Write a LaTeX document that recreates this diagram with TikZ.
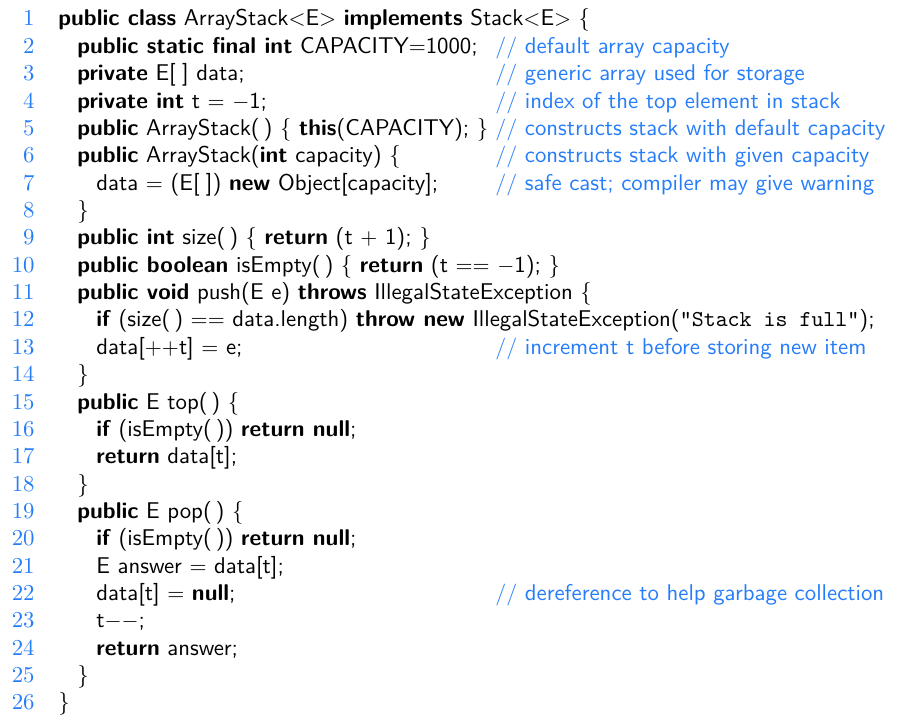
\documentclass[tikz,border=0pt]{standalone}
\usepackage{tikz}
\usepackage{amsmath}
\usepackage{color}
\usepackage{fontspec}
\setmainfont{lmroman10-regular.otf}
\setsansfont{lmsans10-regular.otf}[BoldFont=lmsans10-bold.otf]
\setmonofont{lmmono10-regular.otf}
\usetikzlibrary{positioning}
\definecolor{cmtblue}{RGB}{38,125,250}
\newcommand{\codesize}{\fontsize{11.4}{13}\selectfont}
\tikzstyle{num} = [anchor=base east, inner sep=0pt, text=cmtblue, font=\rmfamily\codesize]
\tikzstyle{code} = [anchor=base west, inner sep=0pt, text=black, font=\sffamily\codesize]
\tikzstyle{cmt} = [anchor=base west, inner sep=0pt, text=cmtblue, font=\sffamily\codesize]
\begin{document}
\begin{tikzpicture}[x=0.5pt, y=-0.5pt, node distance=13.68pt]
\useasboundingbox (0,0) rectangle (901,726);
\node (n1) [num] at (35,26) {1};
\node (n2) [below=of n1.base east, num] {2};
\node (n3) [below=of n2.base east, num] {3};
\node (n4) [below=of n3.base east, num] {4};
\node (n5) [below=of n4.base east, num] {5};
\node (n6) [below=of n5.base east, num] {6};
\node (n7) [below=of n6.base east, num] {7};
\node (n8) [below=of n7.base east, num] {8};
\node (n9) [below=of n8.base east, num] {9};
\node (n10) [below=of n9.base east, num] {10};
\node (n11) [below=of n10.base east, num] {11};
\node (n12) [below=of n11.base east, num] {12};
\node (n13) [below=of n12.base east, num] {13};
\node (n14) [below=of n13.base east, num] {14};
\node (n15) [below=of n14.base east, num] {15};
\node (n16) [below=of n15.base east, num] {16};
\node (n17) [below=of n16.base east, num] {17};
\node (n18) [below=of n17.base east, num] {18};
\node (n19) [below=of n18.base east, num] {19};
\node (n20) [below=of n19.base east, num] {20};
\node (n21) [below=of n20.base east, num] {21};
\node (n22) [below=of n21.base east, num] {22};
\node (n23) [below=of n22.base east, num] {23};
\node (n24) [below=of n23.base east, num] {24};
\node (n25) [below=of n24.base east, num] {25};
\node (n26) [below=of n25.base east, num] {26};
\node (l1) [right=11.5pt of n1.base east, code] {\textbf{public class} ArrayStack$<$E$>$ \textbf{implements} Stack$<$E$>$ \{};
\node (l2) [right=21pt of n2.base east, code] {\textbf{public static final int} CAPACITY$=$1000;};
\node (l3) [right=21pt of n3.base east, code] {\textbf{private} E[\;] data;};
\node (l4) [right=21pt of n4.base east, code] {\textbf{private int} t $=$ $-$1;};
\node (l5) [right=21pt of n5.base east, code] {\textbf{public} ArrayStack(\,) \{ \textbf{this}(CAPACITY); \}};
\node (l6) [right=21pt of n6.base east, code] {\textbf{public} ArrayStack(\textbf{int} capacity) \{};
\node (l7) [right=30.5pt of n7.base east, code] {data $=$ (E[\;]) \textbf{new} Object[capacity];};
\node (l8) [right=21pt of n8.base east, code] {\}};
\node (l9) [right=21pt of n9.base east, code] {\textbf{public int} size(\,) \{ \textbf{return} (t $+$ 1); \}};
\node (l10) [right=21pt of n10.base east, code] {\textbf{public boolean} isEmpty(\,) \{ \textbf{return} (t $==$ $-$1); \}};
\node (l11) [right=21pt of n11.base east, code] {\textbf{public void} push(E e) \textbf{throws} IllegalStateException \{};
\node (l12) [right=30.5pt of n12.base east, code] {\textbf{if} (size(\,) $==$ data.length) \textbf{throw new} IllegalStateException(\texttt{"Stack is full"});};
\node (l13) [right=30.5pt of n13.base east, code] {data[$++$t] $=$ e;};
\node (l14) [right=21pt of n14.base east, code] {\}};
\node (l15) [right=21pt of n15.base east, code] {\textbf{public} E top(\,) \{};
\node (l16) [right=30.5pt of n16.base east, code] {\textbf{if} (isEmpty(\,)) \textbf{return null};};
\node (l17) [right=30.5pt of n17.base east, code] {\textbf{return} data[t];};
\node (l18) [right=21pt of n18.base east, code] {\}};
\node (l19) [right=21pt of n19.base east, code] {\textbf{public} E pop(\,) \{};
\node (l20) [right=30.5pt of n20.base east, code] {\textbf{if} (isEmpty(\,)) \textbf{return null};};
\node (l21) [right=30.5pt of n21.base east, code] {E answer $=$ data[t];};
\node (l22) [right=30.5pt of n22.base east, code] {data[t] $=$ \textbf{null};};
\node (l23) [right=30.5pt of n23.base east, code] {t$--$;};
\node (l24) [right=30.5pt of n24.base east, code] {\textbf{return} answer;};
\node (l25) [right=21pt of n25.base east, code] {\}};
\node (l26) [right=11.5pt of n26.base east, code] {\}};
\node (c2) [right=230pt of n2.base east, cmt] {$//$ default array capacity};
\node (c3) [right=230pt of n3.base east, cmt] {$//$ generic array used for storage};
\node (c4) [right=230pt of n4.base east, cmt] {$//$ index of the top element in stack};
\node (c5) [right=230pt of n5.base east, cmt] {$//$ constructs stack with default capacity};
\node (c6) [right=230pt of n6.base east, cmt] {$//$ constructs stack with given capacity};
\node (c7) [right=230pt of n7.base east, cmt] {$//$ safe cast; compiler may give warning};
\node (c13) [right=230pt of n13.base east, cmt] {$//$ increment t before storing new item};
\node (c22) [right=230pt of n22.base east, cmt] {$//$ dereference to help garbage collection};
\end{tikzpicture}
\end{document}
